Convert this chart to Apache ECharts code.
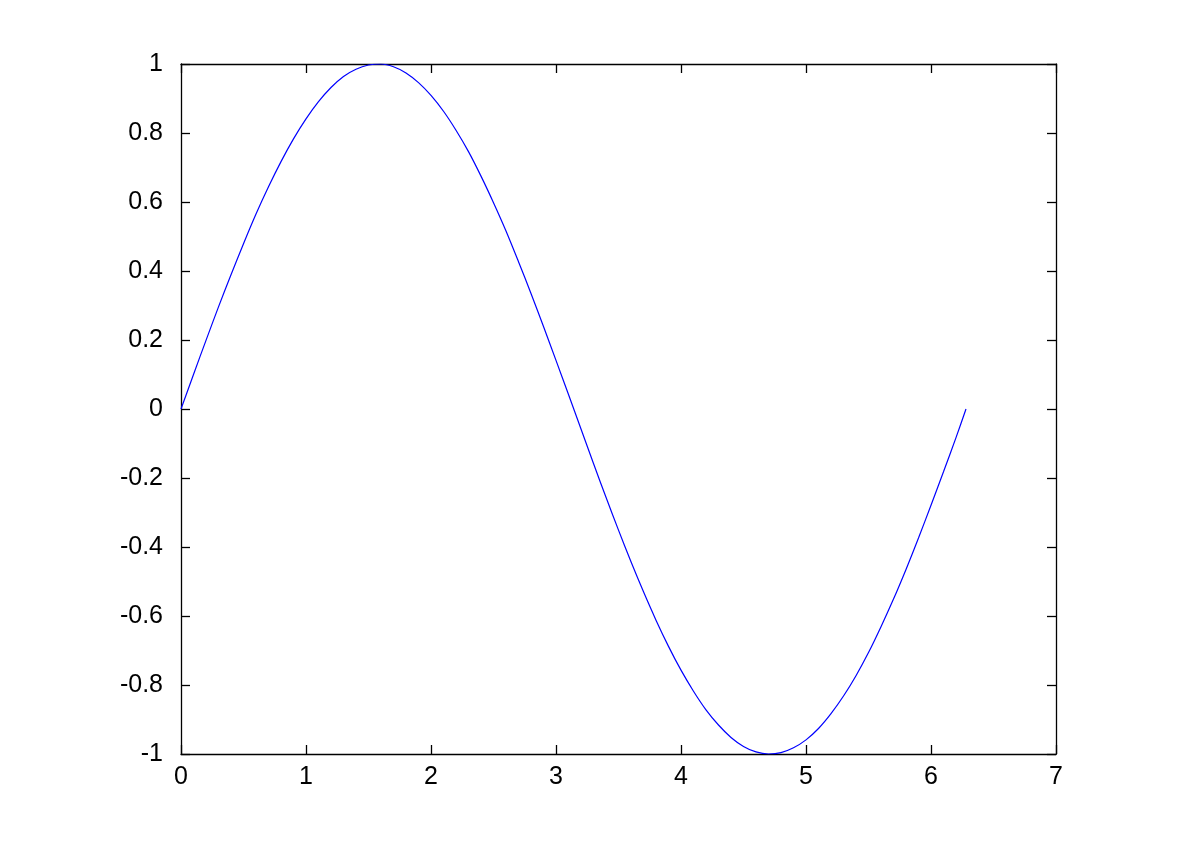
<!DOCTYPE html>
<html>
<head>
<meta charset="utf-8">
<script src="https://cdn.jsdelivr.net/npm/echarts@6/dist/echarts.min.js"></script>
<style>html,body{margin:0;padding:0;background:#fff}#c{width:1200px;height:849px}</style>
</head>
<body>
<div id="c"></div>
<script>
const xValues = [0,0.1,0.2,0.3,0.4,0.5,0.6,0.7,0.8,0.9,1.0,1.1,1.2,1.3,1.4,1.5,1.6,1.7,1.8,1.9,2.0,2.1,2.2,2.3,2.4,2.5,2.6,2.7,2.8,2.9,3.0,3.1,3.2,3.3,3.4,3.5,3.6,3.7,3.8,3.9,4.0,4.1,4.2,4.3,4.4,4.5,4.6,4.7,4.8,4.9,5.0,5.1,5.2,5.3,5.4,5.5,5.6,5.7,5.8,5.9,6.0,6.1,6.2,6.28];
const yValues = [0,0.100,0.199,0.296,0.389,0.479,0.565,0.644,0.717,0.783,0.841,0.891,0.932,0.964,0.985,0.997,1.000,0.992,0.974,0.946,0.909,0.863,0.808,0.746,0.675,0.598,0.516,0.427,0.335,0.239,0.141,0.042,-0.058,-0.158,-0.256,-0.351,-0.443,-0.530,-0.612,-0.688,-0.757,-0.818,-0.872,-0.916,-0.952,-0.978,-0.994,-1.000,-0.996,-0.982,-0.959,-0.926,-0.883,-0.832,-0.773,-0.706,-0.631,-0.551,-0.465,-0.374,-0.279,-0.182,-0.083,0];
const xTicks = [0,1,2,3,4,5,6,7];
const yTicks = [-1,-0.8,-0.6,-0.4,-0.2,0,0.2,0.4,0.6,0.8,1];

const data = xValues.map((x,i)=>[x,yValues[i]]);
const lineStyle = {color:'#000',width:1.3};
const font = {fontFamily:'Liberation Sans, Arial, sans-serif',fontSize:25,color:'#000'};
function axisCommon(show){
  return {
    axisLine:{show:true,onZero:false,lineStyle},
    axisTick:{show:true,inside:true,length:9,lineStyle},
    splitLine:{show:false},
    axisLabel:Object.assign({show:show},font)
  };
}
const chart = echarts.init(document.getElementById('c'),null,{renderer:'canvas'});
chart.setOption({
  animation:false,
  backgroundColor:'#fff',
  grid:{left:181,right:144,top:64,bottom:95,containLabel:false},
  xAxis:[
    Object.assign({type:'value',position:'bottom',min:xTicks[0],max:xTicks[xTicks.length-1],interval:1},axisCommon(true),{axisLabel:Object.assign({margin:11},font)}),
    Object.assign({type:'value',position:'top',min:xTicks[0],max:xTicks[xTicks.length-1],interval:1},axisCommon(false))
  ],
  yAxis:[
    Object.assign({type:'value',position:'left',min:yTicks[0],max:yTicks[yTicks.length-1],interval:0.2},axisCommon(true),{axisLabel:Object.assign({margin:18,formatter:v=>String(Math.round(v*10)/10)},font)}),
    Object.assign({type:'value',position:'right',min:yTicks[0],max:yTicks[yTicks.length-1],interval:0.2},axisCommon(false))
  ],
  series:[{
    type:'line',
    data:data,
    showSymbol:false,
    smooth:0.3,
    lineStyle:{color:'#0000ff',width:1.2},
    xAxisIndex:0,yAxisIndex:0
  }]
});
</script>
</body>
</html>
